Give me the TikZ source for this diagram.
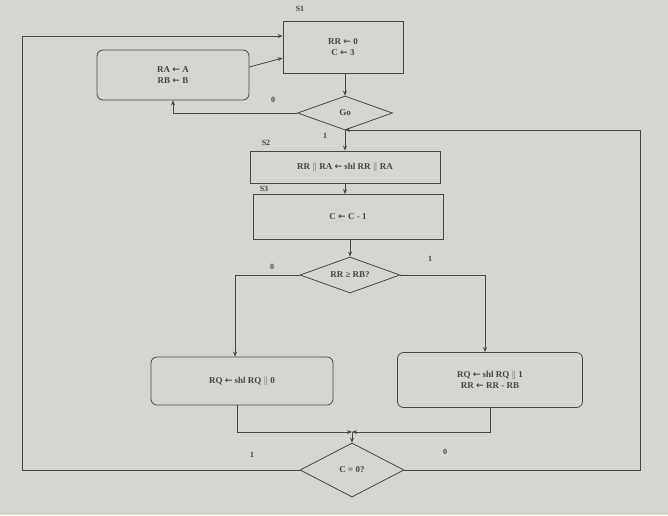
\documentclass[tikz,border=0pt]{standalone}
\usepackage{fontspec}
\setmainfont{Liberation Serif}
\newfontfamily\arrfont{DejaVu Sans}
\newcommand{\la}{{\arrfont\bfseries ←}}
\usetikzlibrary{shapes.geometric,arrows.meta}
\definecolor{paper}{RGB}{214,214,208}
\definecolor{ink}{RGB}{70,70,72}
\begin{document}
\begin{tikzpicture}[x=1pt,y=-1pt,
  every node/.style={font=\bfseries\fontsize{9}{11}\selectfont,text=ink},
  box/.style={draw=ink,thick,align=center,minimum width=#1,inner sep=2pt},
  rbox/.style={box=#1,rounded corners=6pt},
  dia/.style={draw=ink,thick,diamond,aspect=2.6,inner sep=1pt,align=center},
  line/.style={draw=ink,thick},
  arr/.style={line,-{Stealth[length=5pt,width=4pt]}},
  lab/.style={font=\bfseries\fontsize{8}{9}\selectfont}]
\fill[paper] (0,0) rectangle (668,515);
\useasboundingbox (0,0) rectangle (668,515);
\node[box=120pt,minimum height=52pt] (s1) at (343,47) {RR \la{} 0\\C \la{} 3};
\node[lab] at (300,9) {S1};
\node[rbox=152pt,minimum height=50pt] (ra) at (173,75) {RA \la{} A\\RB \la{} B};
\node[dia,minimum width=95pt,minimum height=34pt] (go) at (345,113) {Go};
\node[box=190pt,minimum height=32pt] (s2) at (345,167) {RR $\|$ RA \la{} shl RR $\|$ RA};
\node[lab] at (266,143) {S2};
\node[box=190pt,minimum height=45pt] (s3) at (348,217) {C \la{} C - 1};
\node[lab] at (264,189) {S3};
\node[dia,minimum width=100pt,minimum height=36pt] (cmp) at (350,275) {RR ≥ RB?};
\node[rbox=182pt,minimum height=48pt] (lb) at (242,381) {RQ \la{} shl RQ $\|$ 0};
\node[rbox=185pt,minimum height=55pt] (rb) at (490,380) {RQ \la{} shl RQ $\|$ 1\\RR \la{} RR - RB};
\node[dia,minimum width=104pt,minimum height=54pt] (cz) at (352,470) {C =\ 0?};
\coordinate (m) at (352,432);
\coordinate (j) at (345,130);
% connectors
\draw[arr] (s1.south -| go.north) -- (go.north);
\draw[arr] (ra.east) ++(0,-8) -- (s1.west |- 0,58);
\draw[arr] (go.west) -| (ra.south);
\node[lab] at (273,100) {0};
\draw[line] (go.south) -- (j);
\draw[arr] (j) -- (s2.north -| j);
\node[lab] at (325,136) {1};
\draw[arr] (s2.south -| 345,0) -- (s3.north -| 345,0);
\draw[arr] (s3.south -| 350,0) -- (cmp.north);
\draw[arr] (cmp.west) -| (lb.north -| 235,0);
\node[lab] at (272,267) {0};
\draw[arr] (cmp.east) -| (rb.north -| 485,0);
\node[lab] at (430,259) {1};
\draw[arr] (lb.south -| 237,0) |- (m);
\draw[arr] (rb.south -| 490,0) |- (m);
\draw[arr] (m) -- (cz.north);
\draw[arr] (cz.west) -- (22,470) -- (22,36) -- (s1.west |- 0,36);
\node[lab] at (252,455) {1};
\draw[arr] (cz.east) -- (640,470) -- (640,130) -- (j);
\node[lab] at (445,452) {0};
\end{tikzpicture}
\end{document}
